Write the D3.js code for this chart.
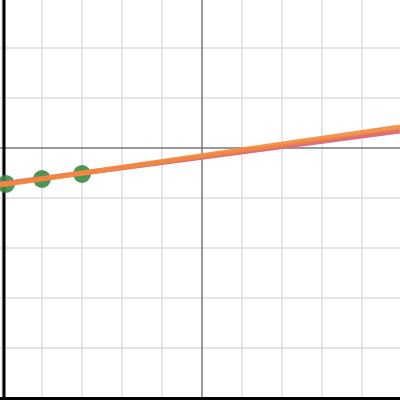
<!DOCTYPE html>
<html>
<head>
<meta charset="UTF-8">
<style>body{margin:0;background:#fff}</style>
</head>
<body>
<script src="https://cdn.jsdelivr.net/npm/d3@7"></script>
<script>
  let gridX = [-5, -4, -3, -2, -1, 1, 2, 3, 4];
  let gridY = [2, 1, -1, -2, -3, -4];
  let pointsX = [-4.9, -4, -3];
  let pointsY = [-0.72, -0.62, -0.52];
  // two fitted lines: [x0, y0, x1, y1]
  let redLine = [-5.05, -0.72, 4.95, 0.34];
  let orangeLine = [-5.05, -0.74, 4.95, 0.42];

  let width = 400, height = 400;
  let x = d3.scaleLinear().domain([-5.05, 4.95]).range([0, width]);
  let y = d3.scaleLinear().domain([2.96, -5.04]).range([0, height]);

  let svg = d3.select("body").append("svg")
    .attr("width", width).attr("height", height);

  svg.selectAll(".gx").data(gridX).enter().append("line")
    .attr("x1", d => x(d)).attr("x2", d => x(d))
    .attr("y1", 0).attr("y2", height)
    .attr("stroke", "#ddd").attr("stroke-width", 1.5);
  svg.selectAll(".gy").data(gridY).enter().append("line")
    .attr("y1", d => y(d)).attr("y2", d => y(d))
    .attr("x1", 0).attr("x2", width)
    .attr("stroke", "#ddd").attr("stroke-width", 1.5);

  // axes
  svg.append("line").attr("x1", x(0)).attr("x2", x(0)).attr("y1", 0).attr("y2", height)
    .attr("stroke", "#777").attr("stroke-width", 1.5);
  svg.append("line").attr("y1", y(0)).attr("y2", y(0)).attr("x1", 0).attr("x2", width)
    .attr("stroke", "#777").attr("stroke-width", 1.5);

  // frame edges
  svg.append("line").attr("x1", 4).attr("x2", 4).attr("y1", 0).attr("y2", height)
    .attr("stroke", "#000").attr("stroke-width", 3);
  svg.append("line").attr("x1", 0).attr("x2", width).attr("y1", 398.5).attr("y2", 398.5)
    .attr("stroke", "#000").attr("stroke-width", 3);

  svg.selectAll("circle").data(pointsX).enter().append("circle")
    .attr("cx", d => x(d)).attr("cy", (d, i) => y(pointsY[i]))
    .attr("r", 9).attr("fill", "#388c46").attr("opacity", 0.9);

  svg.append("line")
    .attr("x1", x(redLine[0])).attr("y1", y(redLine[1]))
    .attr("x2", x(redLine[2])).attr("y2", y(redLine[3]))
    .attr("stroke", "#d9707a").attr("stroke-width", 5);
  svg.append("line")
    .attr("x1", x(orangeLine[0])).attr("y1", y(orangeLine[1]))
    .attr("x2", x(orangeLine[2])).attr("y2", y(orangeLine[3]))
    .attr("stroke", "#f5893a").attr("stroke-width", 5).attr("opacity", 0.9);
</script>
</body>
</html>
